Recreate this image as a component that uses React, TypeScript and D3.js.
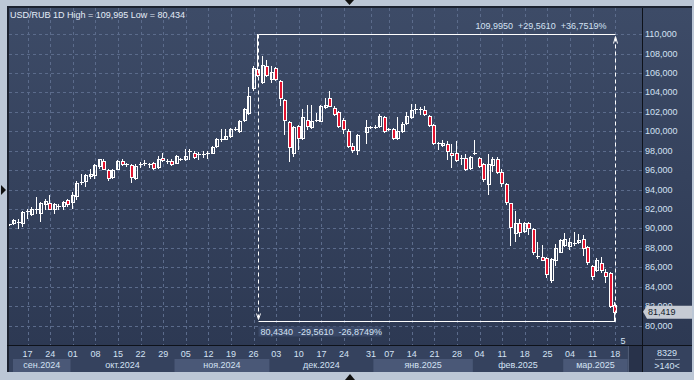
import React from 'react';
import * as d3 from 'd3';

type OHLC = [number, number, number, number];

const symbol = 'USD/RUB';
const period = '1D';

// open, high, low, close — one per trading session (null = no trade)
const candles: (OHLC | null)[] = [
  [90.42, 90.5, 90.38, 90.48],
  [90.53, 91.01, 90.43, 90.84],
  [90.7, 90.94, 89.99, 90.65],
  [90.6, 91.8, 90.26, 91.7],
  [91.72, 92.04, 91.11, 91.78],
  [91.46, 92.24, 91.39, 92.04],
  [91.95, 93.27, 91.63, 91.85],
  [91.63, 92.72, 90.77, 92.58],
  [92.55, 93.0, 91.97, 92.79],
  [92.58, 93.4, 91.97, 92.04],
  [92.04, 92.65, 91.63, 92.48],
  [92.28, 92.55, 92.04, 92.33],
  [92.31, 92.82, 92.04, 92.76],
  [92.89, 93.06, 92.31, 92.55],
  [92.72, 93.75, 92.14, 93.4],
  [93.34, 94.87, 92.99, 94.7],
  [94.72, 95.56, 94.53, 94.8],
  [94.87, 95.63, 94.36, 95.46],
  [95.39, 96.07, 95.22, 95.63],
  [95.46, 96.58, 95.22, 96.48],
  [96.41, 97.17, 96.24, 97.1],
  [96.93, 97.17, 96.07, 96.14],
  [96.0, 96.14, 94.98, 95.22],
  [95.32, 96.07, 95.22, 95.97],
  [96.14, 97.03, 96.07, 96.93],
  [96.93, 97.1, 96.48, 96.58],
  [96.6, 96.76, 96.41, 96.56],
  [96.48, 96.58, 94.81, 95.32],
  [95.22, 96.58, 95.11, 96.41],
  [96.56, 96.82, 96.35, 96.6],
  [96.74, 96.99, 96.48, 96.78],
  [96.6, 96.69, 96.35, 96.56],
  [96.69, 96.82, 96.07, 96.24],
  [96.35, 97.44, 96.24, 97.17],
  [97.27, 97.78, 96.93, 96.99],
  [96.95, 97.17, 96.76, 96.91],
  [96.93, 97.17, 96.52, 96.58],
  [96.76, 97.51, 96.69, 97.44],
  [97.15, 97.27, 97.03, 97.19],
  [97.1, 98.12, 97.03, 97.44],
  [97.9, 98.2, 97.1, 98.0],
  [97.78, 97.95, 97.27, 97.37],
  [97.63, 97.85, 97.17, 97.59],
  [97.59, 97.95, 97.37, 97.63],
  [97.69, 97.95, 97.27, 97.73],
  [97.78, 98.53, 97.71, 98.4],
  [98.53, 99.32, 98.4, 99.22],
  [99.2, 100.24, 98.98, 99.24],
  [99.22, 100.18, 99.15, 99.49],
  [99.49, 100.35, 99.42, 100.18],
  [100.22, 100.45, 100.11, 100.26],
  [100.0, 101.2, 99.9, 101.1],
  [101.2, 102.4, 101.03, 102.29],
  [101.88, 104.55, 101.81, 103.66],
  [104.45, 106.67, 104.28, 106.5],
  [106.4, 109.995, 105.64, 105.82],
  [105.03, 107.7, 104.96, 106.84],
  [106.67, 107.29, 105.64, 105.82],
  [105.37, 106.67, 105.03, 106.09],
  [106.5, 106.57, 105.3, 105.37],
  [105.13, 105.23, 102.74, 103.42],
  [103.18, 103.32, 99.76, 101.13],
  [100.93, 101.03, 96.93, 98.4],
  [97.71, 100.58, 97.44, 100.45],
  [100.58, 100.69, 98.12, 99.32],
  [99.32, 102.29, 99.22, 101.47],
  [101.2, 102.74, 100.24, 100.58],
  [100.45, 102.74, 100.35, 101.03],
  [101.08, 101.88, 101.03, 101.12],
  [101.03, 102.74, 101.03, 102.57],
  [102.46, 103.42, 102.4, 102.74],
  [103.42, 104.17, 102.57, 102.64],
  [102.4, 102.57, 101.71, 101.81],
  [101.95, 102.06, 100.45, 100.52],
  [101.2, 101.37, 99.83, 100.18],
  [100.07, 100.18, 98.4, 98.47],
  [98.53, 98.74, 97.85, 98.02],
  [98.02, 99.76, 97.68, 99.66],
  null,
  [99.9, 101.2, 98.81, 100.45],
  [100.43, 100.58, 100.35, 100.47],
  [100.4, 100.6, 100.3, 100.42],
  [100.52, 101.81, 100.45, 101.61],
  [101.47, 101.61, 99.9, 100.0],
  [100.2, 100.35, 100.11, 100.24],
  [100.18, 100.35, 99.22, 99.32],
  [99.32, 101.44, 99.22, 100.05],
  [100.0, 100.93, 99.9, 100.76],
  [100.86, 101.95, 100.79, 101.61],
  [101.47, 102.81, 101.37, 102.23],
  [102.21, 102.84, 101.88, 102.25],
  [102.21, 102.5, 101.82, 102.25],
  [102.23, 102.64, 101.71, 101.78],
  [101.61, 101.71, 100.52, 100.69],
  [100.69, 100.76, 98.64, 98.74],
  [98.81, 98.88, 98.12, 98.64],
  [98.6, 99.05, 98.53, 98.81],
  [98.64, 98.98, 97.17, 97.95],
  [97.78, 98.64, 96.35, 97.54],
  [97.78, 98.98, 96.93, 97.03],
  [97.1, 97.51, 96.59, 97.27],
  [97.27, 97.61, 96.0, 96.07],
  [96.24, 97.44, 96.14, 97.37],
  [97.76, 99.05, 97.61, 97.8],
  [97.27, 97.37, 96.35, 96.41],
  [96.59, 96.69, 94.88, 95.11],
  [94.6, 97.61, 93.51, 96.65],
  [96.48, 97.37, 95.9, 97.1],
  [97.17, 97.37, 95.73, 95.8],
  [95.83, 96.07, 94.36, 94.7],
  [94.53, 94.64, 92.48, 92.72],
  [92.58, 92.65, 88.28, 90.19],
  [89.51, 91.8, 88.72, 90.6],
  [90.53, 91.01, 89.23, 89.58],
  [89.75, 90.67, 89.58, 90.53],
  [90.53, 90.67, 89.4, 89.99],
  [89.92, 89.99, 87.35, 87.52],
  [87.09, 88.62, 86.91, 87.13],
  [87.01, 88.28, 86.77, 86.77],
  [86.91, 87.01, 84.96, 85.3],
  [84.72, 86.91, 84.45, 86.84],
  [86.77, 88.38, 86.23, 87.93],
  [87.59, 88.89, 87.52, 88.79],
  [88.28, 89.51, 88.21, 88.89],
  [88.21, 88.96, 87.87, 88.62],
  [88.43, 89.58, 88.28, 88.47],
  [88.55, 89.4, 88.48, 88.79],
  [88.89, 89.3, 87.25, 87.93],
  [88.04, 88.21, 86.33, 86.5],
  [86.09, 86.23, 84.79, 85.06],
  [85.75, 86.91, 85.65, 86.77],
  [86.43, 87.01, 85.54, 85.75],
  [85.54, 85.81, 84.52, 85.06],
  [85.37, 85.47, 81.88, 82.05],
  [82.12, 82.4, 80.434, 81.419],
];

// weekly date ticks: session index and label
const tickIndex = [4, 9, 14, 19, 24, 29, 34, 39, 44, 49, 54, 59, 64, 69, 74, 80, 84, 89, 94, 99, 104, 109, 114, 119, 124, 129, 134];
const tickLabels = ['17', '24', '01', '08', '15', '22', '29', '05', '12', '19', '26', '03', '10', '17', '24', '31', '07', '14', '21', '28', '04', '11', '18', '25', '04', '11', '18'];

const monthLabels = ['сен.2024', 'окт.2024', 'ноя.2024', 'дек.2024', 'янв.2025', 'фев.2025', 'мар.2025'];
const monthStartIndex = [0, 14, 37, 58, 81, 103, 123];

const priceTicks = d3.range(80, 110.001, 2);
const volumeText = '8329';
const zoomText = '>140<';
const cornerText = '5';

const RED = '#e3132f';
const TXT = '#d3e1f3';
const GRID = '#5b6b8b';
const FONT = '"Liberation Sans", Arial, sans-serif';

const fmt = (v: number, d: number) => v.toFixed(d).replace('.', ',');
const fmtSigned = (v: number, d: number) => (v >= 0 ? '+' : '-') + fmt(Math.abs(v), d);

export default function App() {
  const W = 694;
  const H = 380;
  const plot = { left: 9, top: 8, right: 642, bottom: 345 };
  const axisBottom = 372;
  const panelRight = 692;

  const xScale = d3.scaleLinear().domain([0, candles.length - 1]).range([9.5, 615.2]);
  const yScale = d3.scaleLinear().domain([80, 110]).range([325.5, 34.1]);

  const valid = candles.map((d, i) => ({ d, i })).filter((e) => e.d) as { d: OHLC; i: number }[];
  const hiE = valid.reduce((a, b) => (b.d[1] > a.d[1] ? b : a));
  const loE = valid.reduce((a, b) => (b.d[2] < a.d[2] ? b : a));
  const hi = hiE.d[1];
  const lo = loE.d[2];
  const last = valid[valid.length - 1];
  const lastClose = last.d[3];

  const annLeft = Math.round(xScale(hiE.i)) + 0.5;
  const annRight = Math.round(xScale(loE.i)) + 0.5;
  const annTop = Math.round(yScale(hi)) + 0.5;
  const annBottom = Math.round(yScale(lo)) + 0.5;

  const bands = monthLabels.map((m, k) => {
    const x0 = Math.max(xScale(monthStartIndex[k] - 0.5), plot.left + 4);
    const x1 = k < monthLabels.length - 1 ? xScale(monthStartIndex[k + 1] - 0.5) : xScale(candles.length - 1 + 2.8);
    return { m, x0, x1, light: k % 2 === 0 };
  });
  const bandEnd = bands[bands.length - 1].x1;

  const priceY = yScale(lastClose);

  return (
    <svg width={W} height={H} style={{ position: 'absolute', left: 0, top: 0 }} fontFamily={FONT}>
      <defs>
        <linearGradient id="bg" x1="0" y1="0" x2="0" y2="1">
          <stop offset="0" stopColor="#3d4b67" />
          <stop offset="1" stopColor="#2d3953" />
        </linearGradient>
        <clipPath id="plotClip">
          <rect x={plot.left} y={plot.top} width={plot.right - plot.left} height={plot.bottom - plot.top} />
        </clipPath>
      </defs>

      {/* outer frame */}
      <rect x={0} y={0} width={W} height={H} fill="#bcc7d6" />
      <rect x={7} y={6} width={panelRight - 7} height={axisBottom - 6} fill="#1c2230" />
      <rect x={plot.left} y={plot.top} width={panelRight - plot.left} height={plot.bottom - plot.top} fill="url(#bg)" />
      <rect x={plot.left} y={plot.bottom + 1} width={panelRight - plot.left} height={axisBottom - plot.bottom - 1} fill="#35425e" />

      {/* navigation triangles */}
      <path d="M1,185 L6,190 L1,195 Z" fill="#111" />
      <path d="M345,0 L354,0 L349.5,5 Z" fill="#111" />
      <path d="M345,380 L355,380 L350,374 Z" fill="#111" />

      {/* month bands */}
      {bands.map((b) => (
        <g key={b.m}>
          {b.light && <rect x={b.x0} y={359} width={b.x1 - b.x0} height={axisBottom - 359} fill="#4a5877" />}
          <text x={(b.x0 + b.x1) / 2} y={364.5} fill={TXT} fontSize={9} textAnchor="middle" dominantBaseline="central">
            {b.m}
          </text>
        </g>
      ))}
      <rect x={bandEnd} y={plot.bottom + 1} width={plot.right - bandEnd} height={axisBottom - plot.bottom - 1} fill="#28324a" />
      <line x1={bandEnd + 0.5} x2={bandEnd + 0.5} y1={plot.bottom + 1} y2={axisBottom} stroke="#56627c" />

      {/* day ticks */}
      {tickIndex.map((t, k) => (
        <text key={'d' + k} x={xScale(t)} y={354} fill={TXT} fontSize={9} textAnchor="middle" dominantBaseline="central">
          {tickLabels[k]}
        </text>
      ))}

      {/* grid */}
      <g clipPath="url(#plotClip)" stroke={GRID} strokeDasharray="3,3" strokeWidth={1}>
        {tickIndex.map((t, k) => (
          <line key={'v' + k} x1={Math.round(xScale(t)) + 0.5} x2={Math.round(xScale(t)) + 0.5} y1={plot.top} y2={plot.bottom} />
        ))}
        {priceTicks.map((v) => (
          <line key={'h' + v} x1={plot.left} x2={plot.right} y1={Math.round(yScale(v)) + 0.5} y2={Math.round(yScale(v)) + 0.5} />
        ))}
      </g>

      {/* candles */}
      <g clipPath="url(#plotClip)">
        {candles.map((d, i) => {
          if (!d) return null;
          const [o, h, l, c] = d;
          const cx = Math.round(xScale(i));
          const yO = Math.round(yScale(o));
          const yC = Math.round(yScale(c));
          const yH = Math.round(yScale(h));
          const yL = Math.round(yScale(l));
          const top = Math.min(yO, yC);
          const bot = Math.max(yO, yC);
          const up = c >= o;
          return (
            <g key={i}>
              <line x1={cx - 0.5} x2={cx - 0.5} y1={yH} y2={yL + 1} stroke="#fff" />
              {bot - top < 2 ? (
                <line x1={cx - 2} x2={cx + 2} y1={top + 0.5} y2={top + 0.5} stroke="#fff" />
              ) : (
                <rect x={cx - 1.5} y={top + 0.5} width={3} height={bot - top} fill={up ? 'none' : RED} stroke="#fff" />
              )}
            </g>
          );
        })}
      </g>

      {/* high/low measurement annotation */}
      <g stroke="#fff" strokeWidth={1} fill="none">
        <line x1={annLeft} x2={annRight} y1={annTop} y2={annTop} />
        <line x1={annLeft} x2={annRight} y1={annBottom} y2={annBottom} />
        <line x1={annLeft} x2={annLeft} y1={annTop} y2={annBottom} strokeDasharray="4,3" />
        <line x1={annRight} x2={annRight} y1={annBottom} y2={annTop} strokeDasharray="4,3" />
        <path d={`M${annRight - 2},${annTop + 9} L${annRight},${annTop + 2} L${annRight + 2},${annTop + 9}`} />
        <path d={`M${annLeft - 2},${annBottom - 8} L${annLeft},${annBottom - 2} L${annLeft + 2},${annBottom - 8}`} />
      </g>
      <text x={annRight - 9} y={26} fill={TXT} fontSize={9} textAnchor="end" dominantBaseline="central" style={{ whiteSpace: 'pre' }}>
        {`${fmt(hi, 4)}  ${fmtSigned(hi - lo, 4)}  ${fmtSigned(((hi - lo) / lo) * 100, 4)}%`}
      </text>
      <rect x={annLeft} y={annBottom + 5} width={123} height={10} fill="#3a4867" />
      <text x={annLeft + 2} y={annBottom + 10} fill={TXT} fontSize={9} dominantBaseline="central" style={{ whiteSpace: 'pre' }}>
        {`${fmt(lo, 4)}  ${fmtSigned(lo - hi, 4)}  ${fmtSigned(((lo - hi) / hi) * 100, 4)}%`}
      </text>
      <text x={623} y={341} fill={TXT} fontSize={9} textAnchor="middle" dominantBaseline="central">
        {cornerText}
      </text>

      {/* title */}
      <text x={10} y={15} fill="#e4ecf7" fontSize={9} dominantBaseline="central">
        {`${symbol} ${period} High = ${fmt(hi, 3)} Low = ${fmt(lo, 3)}`}
      </text>

      {/* right price axis */}
      {priceTicks.map((v) => (
        <text key={'p' + v} x={645} y={yScale(v)} fill={TXT} fontSize={9} dominantBaseline="central">
          {fmt(v, 3)}
        </text>
      ))}
      <path
        d={`M643,${priceY} L647,${priceY - 6} L${panelRight},${priceY - 6} L${panelRight},${priceY + 7} L647,${priceY + 7} Z`}
        fill="#c6cbd4"
      />
      <text x={648} y={priceY + 0.5} fill="#141b2a" fontSize={9} dominantBaseline="central">
        {fmt(lastClose, 3)}
      </text>

      {/* frame lines */}
      <line x1={7} x2={panelRight} y1={plot.bottom + 0.5} y2={plot.bottom + 0.5} stroke="#0e121a" />
      <line x1={plot.right + 0.5} x2={plot.right + 0.5} y1={plot.top} y2={axisBottom} stroke="#0e121a" />

      {/* bottom-right info */}
      <text x={667} y={353} fill={TXT} fontSize={9} textAnchor="middle" dominantBaseline="central">
        {volumeText}
      </text>
      <line x1={655} x2={680} y1={359.5} y2={359.5} stroke="#8190aa" />
      <text x={667} y={366} fill={TXT} fontSize={9} textAnchor="middle" dominantBaseline="central">
        {zoomText}
      </text>
    </svg>
  );
}
